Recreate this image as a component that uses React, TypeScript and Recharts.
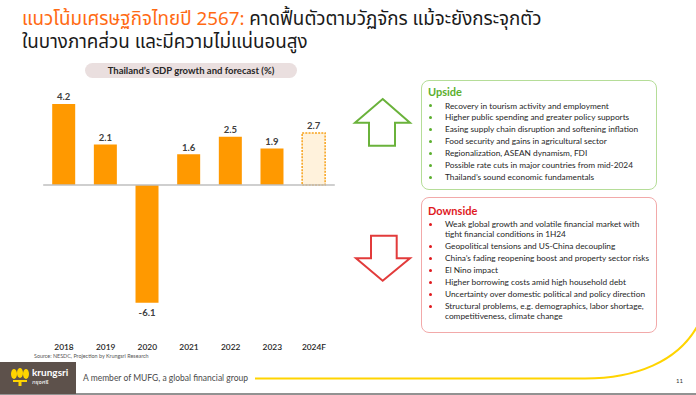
import React from "react";
import { BarChart, Bar, XAxis, YAxis, Cell, LabelList, ReferenceLine } from "recharts";

const years = ["2018", "2019", "2020", "2021", "2022", "2023", "2024F"];
const growth = [4.2, 2.1, -6.1, 1.6, 2.5, 1.9, 2.7];
const forecastFlags = [false, false, false, false, false, false, true];

const upsideItems = [
  "Recovery in tourism activity and employment",
  "Higher public spending and greater policy supports",
  "Easing supply chain disruption and softening inflation",
  "Food security and gains in agricultural sector",
  "Regionalization, ASEAN dynamism, FDI",
  "Possible rate cuts in major countries from mid-2024",
  "Thailand’s sound economic fundamentals",
];
const downsideItems = [
  ["Weak global growth and volatile financial market with", "tight financial conditions in 1H24"],
  ["Geopolitical tensions and US-China decoupling"],
  ["China’s fading reopening boost and property sector risks"],
  ["El Nino impact"],
  ["Higher borrowing costs amid high household debt"],
  ["Uncertainty over domestic political and policy direction"],
  ["Structural problems, e.g. demographics, labor shortage,", "competitiveness, climate change"],
];

const data = years.map((y, i) => ({ year: y, value: growth[i], forecast: forecastFlags[i] }));

const FONT = "Lato, 'Open Sans', sans-serif";
const THAI = "'Noto Sans Thai', 'Noto Sans', sans-serif";

const ValueLabel = (props: any) => {
  const { x, y, width, height, value } = props;
  const cx = x + width / 2;
  const neg = value < 0;
  const top = Math.min(y, y + height);
  const bottom = Math.max(y, y + height);
  const ty = neg ? bottom + 9.5 : top - 7;
  return (
    <text x={cx} y={ty} textAnchor="middle" dominantBaseline="central" fontSize={9.5} fontWeight={700} fill="#404040" fontFamily={FONT}>
      {value.toFixed(1)}
    </text>
  );
};

const Bullets = ({ items, color }: { items: string[][]; color: string }) => (
  <div>
    {items.map((lines, i) => (
      <div key={i} style={{ position: "relative", paddingLeft: 24, marginBottom: 1.7 }}>
        <span style={{ position: "absolute", left: 8, top: 3.8, width: 3, height: 3, borderRadius: 2, background: color }} />
        {lines.map((l, j) => (
          <div key={j} style={{ whiteSpace: "nowrap", lineHeight: "10.3px", height: 10.3 }}>{l}</div>
        ))}
      </div>
    ))}
  </div>
);

export default function App() {
  return (
    <div style={{ position: "absolute", left: 0, top: 0, width: 696, height: 395, background: "#fff", overflow: "hidden", fontFamily: FONT }}>
      {/* Title */}
      <div style={{ position: "absolute", left: 22, top: 8, fontFamily: THAI, fontSize: 18.8, lineHeight: "23px", color: "#1a1a1a", whiteSpace: "nowrap" }}>
        <div><span style={{ color: "#FF6A13" }}>แนวโน้มเศรษฐกิจไทยปี 2567:</span> คาดฟื้นตัวตามวัฏจักร แม้จะยังกระจุกตัว</div>
        <div>ในบางภาคส่วน และมีความไม่แน่นอนสูง</div>
      </div>

      {/* Chart title pill */}
      <div style={{ position: "absolute", left: 85, top: 63, width: 212, height: 15, borderRadius: 8, background: "#EADFDF", fontSize: 9.5, fontWeight: 700, color: "#262626", textAlign: "center", lineHeight: "15px" }}>
        Thailand’s GDP growth and forecast (%)
      </div>

      {/* Chart */}
      <div style={{ position: "absolute", left: 0, top: 0 }}>
        <BarChart width={360} height={395} data={data} margin={{ left: 43.2, right: 25.2, top: 98.2, bottom: 35.2 }} barCategoryGap={0}>
          <YAxis hide domain={[-7.5, 4.5]} allowDataOverflow />
          <XAxis dataKey="year" axisLine={false} tickLine={false} tickMargin={8} interval={0} height={30}
            tick={{ fontSize: 8.4, fill: "#262626", fontFamily: FONT, fontWeight: 600 }} />
          <ReferenceLine y={0} stroke="#BFBFBF" strokeWidth={1.5} />
          <Bar dataKey="value" barSize={23} isAnimationActive={false}>
            {data.map((d, i) => (
              <Cell key={i} fill={d.forecast ? "#FFF2DC" : "#FF9900"} stroke={d.forecast ? "#F7A21B" : "none"}
                strokeWidth={d.forecast ? 1.5 : 0} strokeDasharray={d.forecast ? "2 1.2" : undefined} />
            ))}
            <LabelList dataKey="value" content={ValueLabel} />
          </Bar>
        </BarChart>
      </div>

      {/* Source */}
      <div style={{ position: "absolute", left: 34, top: 353, fontSize: 5.4, color: "#555", whiteSpace: "nowrap", lineHeight: "7px" }}>
        Source: NESDC, Projection by Krungsri Research
      </div>

      {/* Arrows and curve */}
      <svg width={696} height={395} style={{ position: "absolute", left: 0, top: 0 }}>
        <polygon points="382.7,99 410,122.7 395,122.7 395,145.7 369,145.7 369,122.7 355,122.7" fill="#fff" stroke="#6AB23B" strokeWidth={2} strokeLinejoin="miter" />
        <polygon points="371,235.7 396.7,235.7 396.7,258.3 410,258.3 382.7,280.7 356,258.3 371,258.3" fill="#fff" stroke="#E23B3B" strokeWidth={2} strokeLinejoin="miter" />
        <path d="M255,378.5 L585,378.5 C635,378.5 678,362 698,325" fill="none" stroke="#FFD400" strokeWidth={2} />
        <line x1={0} y1={394} x2={696} y2={394} stroke="#6E6E6E" strokeWidth={1.5} />
      </svg>

      {/* Upside box */}
      <div style={{ position: "absolute", left: 421, top: 80, width: 236, height: 110, boxSizing: "border-box", border: "1px solid #B5DD98", borderRadius: 8 }} />
      <div style={{ position: "absolute", left: 428, top: 85, fontSize: 11, fontWeight: 700, color: "#5BAF2E", lineHeight: "14px" }}>Upside</div>
      <div style={{ position: "absolute", left: 421, top: 100.5, fontSize: 8.3, color: "#262626" }}>
        <Bullets items={upsideItems.map((s) => [s])} color="#5BAF2E" />
      </div>

      {/* Downside box */}
      <div style={{ position: "absolute", left: 421, top: 197, width: 236, height: 136, boxSizing: "border-box", border: "1px solid #F2A9A9", borderRadius: 8 }} />
      <div style={{ position: "absolute", left: 428, top: 203.7, fontSize: 11, fontWeight: 700, color: "#E0191E", lineHeight: "14px" }}>Downside</div>
      <div style={{ position: "absolute", left: 421, top: 218.9, fontSize: 8.3, color: "#262626" }}>
        <Bullets items={downsideItems} color="#E0191E" />
      </div>

      {/* Footer */}
      <div style={{ position: "absolute", left: 0, top: 362, width: 76, height: 32, background: "#5D514B" }}>
        <svg width={20} height={18} style={{ position: "absolute", left: 10, top: 6 }}>
          <ellipse cx={4} cy={6} rx={3} ry={5} fill="#FFD400" />
          <ellipse cx={10} cy={5} rx={3} ry={5} fill="#FFD400" />
          <ellipse cx={16} cy={6} rx={3} ry={5} fill="#FFD400" />
          <rect x={3} y={12} width={14} height={2} fill="#FFD400" />
          <rect x={8.5} y={14} width={3} height={4} fill="#FFD400" />
        </svg>
        <div style={{ position: "absolute", left: 32, top: 4, fontSize: 10, fontWeight: 700, color: "#fff", lineHeight: "12px" }}>krungsri</div>
        <div style={{ position: "absolute", left: 32, top: 17, fontSize: 6, color: "#fff", fontFamily: THAI, lineHeight: "8px" }}>กรุงศรี</div>
      </div>
      <div style={{ position: "absolute", left: 83, top: 373, fontSize: 8.5, color: "#4a4a4a", whiteSpace: "nowrap", lineHeight: "11px" }}>
        A member of MUFG, a global financial group
      </div>
      <div style={{ position: "absolute", left: 676, top: 377, fontSize: 6, color: "#333" }}>11</div>
    </div>
  );
}
